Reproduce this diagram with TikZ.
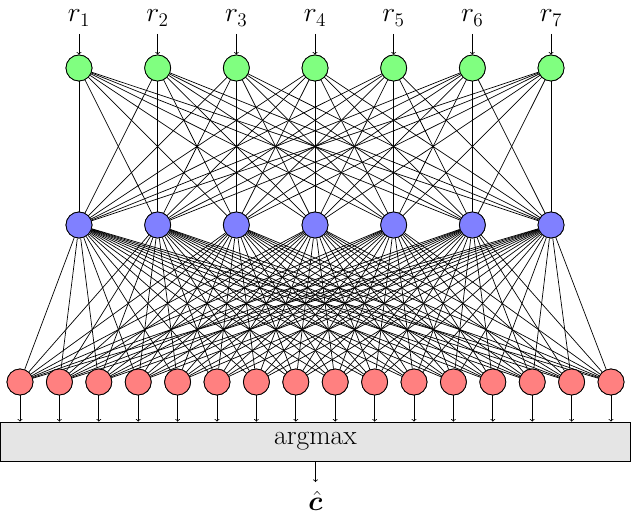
\documentclass[tikz,border=0pt]{standalone}
\usepackage{amsmath,bm}
\begin{document}
\begin{tikzpicture}[x=1pt,y=-1pt,
  neuron/.style={circle,draw,line width=0.8pt,minimum size=26pt,inner sep=0pt},
  gn/.style={neuron,fill=green!50},
  bn/.style={neuron,fill=blue!50},
  rn/.style={neuron,fill=red!50},
  conn/.style={line width=0.7pt},
  arr/.style={-{To[scale=1.4]},line width=0.8pt},
  lbl/.style={font=\LARGE,scale=1.6,inner sep=0pt}]
\useasboundingbox (0,0) rectangle (631,521);
\foreach \i in {1,...,7}{
  \pgfmathsetmacro\xx{79+(\i-1)*78.67}
  \node[gn] (g\i) at (\xx,68) {};
  \node[bn] (b\i) at (\xx,225) {};
  \node[lbl] (r\i) at (\xx,18) {$r_{\i}$};
  \coordinate (rs\i) at (\xx,34);
  \draw[arr] (rs\i) -- (g\i.north);
}
\foreach \j in {1,...,16}{
  \pgfmathsetmacro\xx{20+(\j-1)*39.4}
  \node[rn] (d\j) at (\xx,382) {};
}
\foreach \i in {1,...,7}{
  \foreach \k in {1,...,7}{\draw[conn] (g\i) -- (b\k);}
  \foreach \j in {1,...,16}{\draw[conn] (b\i) -- (d\j);}
}
\foreach \i in {1,...,7}{\node[gn] at (g\i) {}; \node[bn] at (b\i) {};}
\foreach \j in {1,...,16}{\node[rn] at (d\j) {};}
\node[draw,fill=gray!20,line width=0.8pt,minimum width=630pt,minimum height=39pt,inner sep=0pt] (am) at (315.5,441.5) {};
\node[lbl] (amt) at (am.center) {argmax};
\foreach \j in {1,...,16}{
  \draw[arr] (d\j.south) -- (d\j.south |- am.north);
}
\node[lbl] (c) at (315.5,501) {$\hat{\bm{c}}$};
\draw[arr] (am.south) -- (315.5,482);
\end{tikzpicture}
\end{document}
